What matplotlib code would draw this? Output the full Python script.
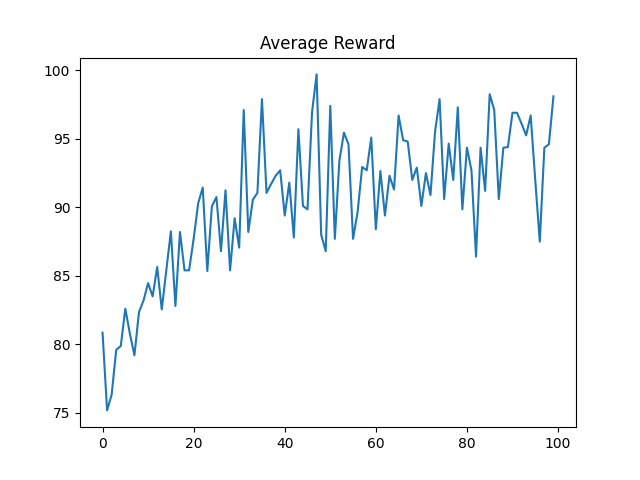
import matplotlib
matplotlib.use('Agg')
import matplotlib.pyplot as plt

# average reward per episode
rewards = [
    80.85, 75.18, 76.33, 79.6, 79.88, 82.6, 80.78, 79.2, 82.36, 83.2,
    84.47, 83.5, 85.65, 82.55, 85.4, 88.25, 82.8, 88.2, 85.4, 85.4,
    87.7, 90.3, 91.44, 85.35, 90.07, 90.75, 86.8, 91.24, 85.4, 89.2,
    87.06, 97.1, 88.2, 90.56, 91.05, 97.9, 91.05, 91.7, 92.3, 92.7,
    89.4, 91.8, 87.8, 95.7, 90.1, 89.85, 96.96, 99.7, 88.0, 86.8,
    97.4, 87.7, 93.4, 95.45, 94.6, 87.7, 89.66, 92.94, 92.7, 95.09,
    88.4, 92.65, 89.4, 92.3, 91.3, 96.7, 94.9, 94.8, 92.0, 92.9,
    90.1, 92.5, 90.9, 95.5, 97.9, 90.6, 94.65, 92.0, 97.3, 89.85,
    94.35, 92.7, 86.4, 94.35, 91.2, 98.25, 97.1, 90.6, 94.35, 94.4,
    96.9, 96.9, 96.1, 95.25, 96.7, 92.0, 87.5, 94.35, 94.6, 98.1,
]

fig, ax = plt.subplots(figsize=(6.4, 4.8), dpi=100)
ax.plot(range(len(rewards)), rewards)
ax.set_title('Average Reward')

plt.savefig('out.png')
